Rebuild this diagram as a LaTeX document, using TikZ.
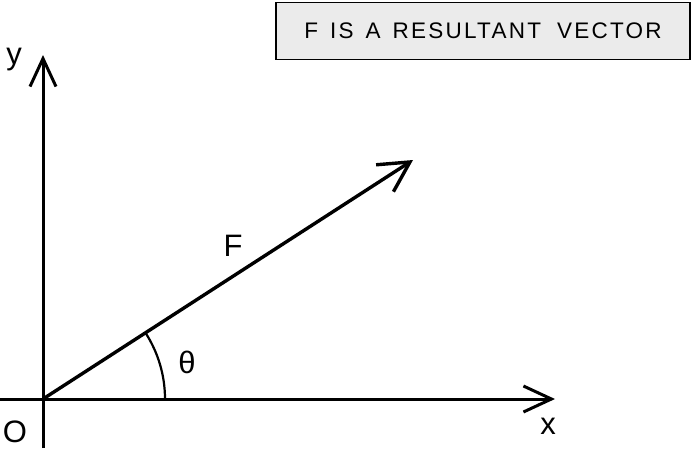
\documentclass[tikz,border=0pt]{standalone}
\usepackage{fontspec}
\setmainfont{Liberation Sans}
\newfontfamily\boxfont[LetterSpace=10]{Liberation Sans}
\usetikzlibrary{arrows.meta}
\begin{document}
\begin{tikzpicture}[x=1pt,y=-1pt,
  axis/.style={line width=3pt,-{Straight Barb[length=28pt,width=26pt,line width=3pt]}},
  vec/.style={line width=3.4pt,-{Straight Barb[length=30pt,width=32pt,line width=3.4pt]}},
  lbl/.style={font=\fontsize{31}{33}\selectfont},
  note/.style={draw,line width=1.5pt,fill=black!8,minimum width=414pt,minimum height=57pt,font=\boxfont\fontsize{22.5}{24}\selectfont}]
\useasboundingbox (0,0) rectangle (698,450);
\coordinate (O) at (43,399);
\coordinate (ybot) at (43,448);
\coordinate (ytop) at (43,55);
\coordinate (xleft) at (0,399);
\coordinate (xright) at (555,399);
\coordinate (ftip) at (413,160);
\draw[axis] (ybot) -- (ytop);
\draw[axis] (xleft) -- (xright);
\draw[vec] (O) -- (ftip);
\draw[line width=2.2pt] (O) ++(122,0) arc[start angle=0,end angle=-33,radius=122];
\node[note] (box) at (483,31) {F\hspace{12pt}IS\hspace{12pt}A\hspace{12pt}RESULTANT\hspace{16pt}VECTOR};
\node[lbl] (ylab) at (14,60) {y};
\node[lbl] (xlab) at (548,426) {x};
\node[lbl] (olab) at (15,432) {O};
\node[lbl] (flab) at (233,246) {F};
\node[lbl] (tlab) at (187,362) {θ};
\end{tikzpicture}
\end{document}
